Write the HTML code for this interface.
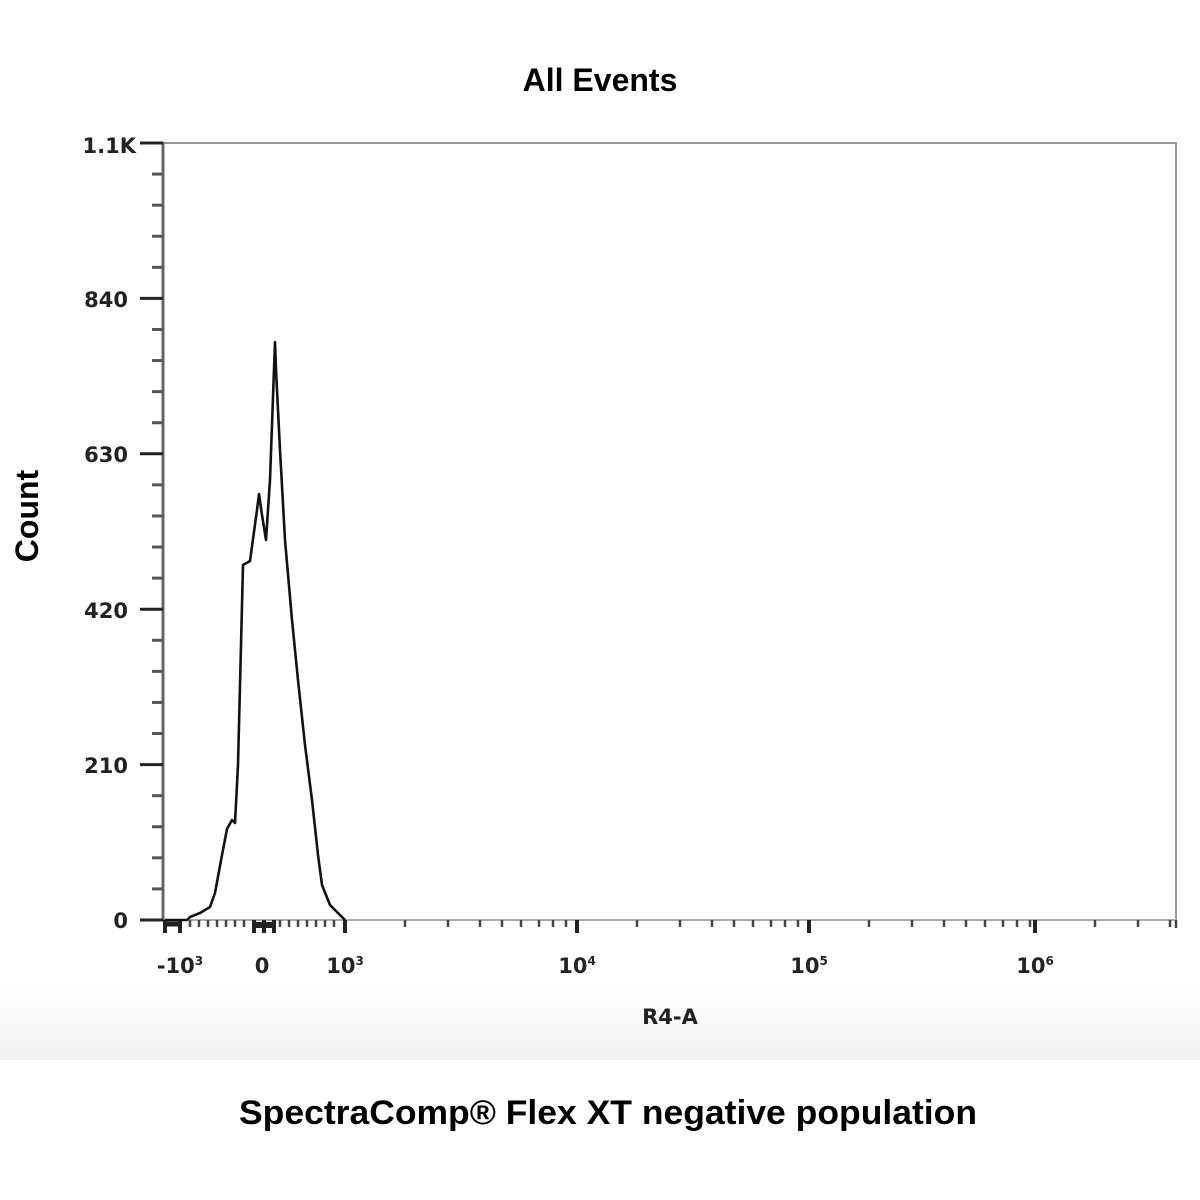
<!DOCTYPE html>
<html><head><meta charset="utf-8"><style>
html,body{margin:0;padding:0;background:#fff;}
svg{display:block;}
</style></head><body>
<svg width="1200" height="1200" viewBox="0 0 1200 1200" xmlns="http://www.w3.org/2000/svg" font-family="'DejaVu Sans', 'Liberation Sans', sans-serif">
<defs>
<linearGradient id="g" x1="0" y1="0" x2="0" y2="1">
<stop offset="0" stop-color="#ffffff"/><stop offset="1" stop-color="#f1f1f1"/>
</linearGradient>
</defs>
<rect x="0" y="0" width="1200" height="1200" fill="#fff"/>
<rect x="0" y="985" width="1200" height="75" fill="url(#g)"/>
<text x="600" y="91" text-anchor="middle" font-size="32" font-weight="bold" font-family="'Liberation Sans', sans-serif" fill="#000">All Events</text>
<text transform="translate(38,516) rotate(-90)" text-anchor="middle" font-size="32" font-weight="bold" font-family="'Liberation Sans', sans-serif" fill="#000">Count</text>
<text x="608" y="1124" text-anchor="middle" font-size="34" font-weight="bold" font-family="'Liberation Sans', sans-serif" fill="#000" textLength="738" lengthAdjust="spacingAndGlyphs">SpectraComp® Flex XT negative population</text>
<path d="M163,143 H1176 V920" fill="none" stroke="#999" stroke-width="2"/>
<line x1="163" y1="920" x2="1176" y2="920" stroke="#aaa" stroke-width="2"/>
<line x1="163" y1="142" x2="163" y2="921" stroke="#666" stroke-width="3"/>
<g id="yt" stroke="#333" stroke-width="3"></g>
<g id="xt" stroke="#222"></g>
<g font-size="21" font-weight="bold" fill="#222" text-anchor="end">
<text x="136" y="153">1.1K</text>
<text x="128" y="307">840</text>
<text x="128" y="462">630</text>
<text x="128" y="618">420</text>
<text x="128" y="773">210</text>
<text x="128" y="928">0</text>
</g>
<g font-size="21" font-weight="bold" fill="#222" text-anchor="middle">
<text x="180" y="973">-10<tspan font-size="12" dy="-8">3</tspan></text>
<text x="262" y="973">0</text>
<text x="345" y="973">10<tspan font-size="12" dy="-8">3</tspan></text>
<text x="577" y="973">10<tspan font-size="12" dy="-8">4</tspan></text>
<text x="809" y="973">10<tspan font-size="12" dy="-8">5</tspan></text>
<text x="1035" y="973">10<tspan font-size="12" dy="-8">6</tspan></text>
<text x="670" y="1024" font-size="21">R4-A</text>
</g>
<polyline fill="none" stroke="#111" stroke-width="2.6" stroke-linejoin="round" points="165,920 187,920 190,917 200,913 210,907 215,893 222,855 227,829 232,820 235,823 238,765 243,565 250,561 257,510 259,494 262,515 266,540 270,480 275,342 276,370 280,450 285,540 292,620 298,680 305,745 312,800 318,855 322,885 330,905 340,915 345,920"/>
<script>
var ns="http://www.w3.org/2000/svg";
function L(g,x1,y1,x2,y2,w,c){var l=document.createElementNS(ns,"line");l.setAttribute("x1",x1);l.setAttribute("y1",y1);l.setAttribute("x2",x2);l.setAttribute("y2",y2);l.setAttribute("stroke-width",w);if(c)l.setAttribute("stroke",c);g.appendChild(l);}
var yt=document.getElementById("yt");
for(var i=0;i<=25;i++){var y=920-i*777/25;var maj=i%5==0;L(yt,maj?140:152,y,163,y,3,maj?"#222":"#555");}
var xt=document.getElementById("xt");
var offs=[60,103,135,157,176,194,208,221];
[345,577,809,1035].forEach(function(d){L(xt,d,920,d,933,4);});
[345,577,809,1035].forEach(function(d,k){offs.forEach(function(o){var x=d+o;if(x<1176 && !(k==3&&o>150))L(xt,x,920,x,927,2.5,"#444");});});
for(var x=190;x<340;x+=9){if((x>248&&x<280))continue;L(xt,x,920,x,927,2.5,"#444");}
L(xt,165,920,165,933,4);L(xt,180,920,180,933,4);L(xt,165,924,180,924,5);
L(xt,254,920,254,933,4);L(xt,264,920,264,933,4);L(xt,274,920,274,933,4);L(xt,254,925,274,925,6);
L(xt,1176,920,1176,928,2.5,"#444");
</script>
</svg>
</body></html>
